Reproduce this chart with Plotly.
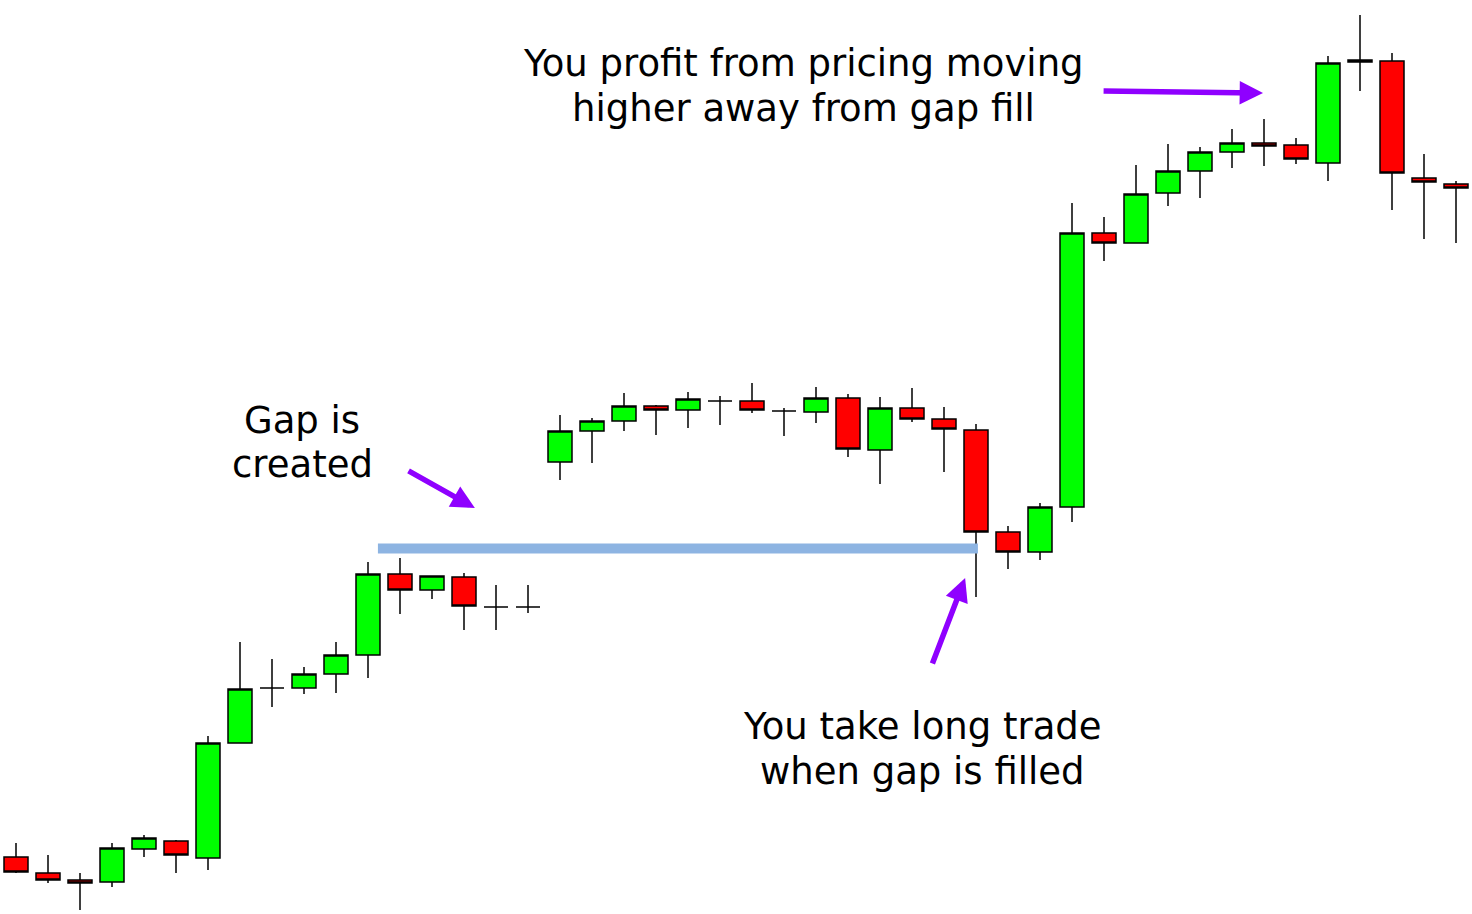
import plotly.graph_objects as go

# Candle data (price units; index = bar number)
idx = list(range(46))
opens = [57, 41, 34, 32, 65, 73, 56, 171, 226, 226, 240, 259, 340, 324, 337, 307, 307,
         452, 483, 493, 508, 504, 513, 513, 503, 502, 516, 464, 506, 495, 484, 382, 362,
         407, 681, 671, 721, 743, 762, 771, 769, 751, 852, 853, 736, 730]
highs = [71, 59, 41, 71, 79, 74, 178, 272, 255, 247, 272, 352, 356, 338, 341, 329, 329,
         499, 496, 521, 509, 522, 518, 531, 506, 527, 520, 517, 526, 507, 490, 388, 411,
         711, 697, 749, 770, 767, 785, 795, 776, 858, 899, 861, 760, 733]
lows = [41, 31, 4, 27, 57, 41, 44, 171, 207, 220, 221, 236, 300, 315, 284, 284, 301,
        434, 451, 483, 479, 486, 489, 501, 478, 491, 457, 430, 492, 442, 317, 345, 354,
        392, 653, 671, 708, 716, 746, 748, 750, 733, 823, 704, 675, 671]
closes = [42, 34, 31, 66, 76, 59, 171, 225, 226, 240, 259, 340, 324, 338, 308, 307, 307,
          483, 493, 508, 504, 515, 513, 504, 503, 516, 465, 506, 495, 485, 382, 362, 407,
          681, 671, 720, 743, 762, 771, 768, 755, 851, 854, 741, 732, 726]

gap_level = 365.5
gap_start, gap_end = 11.31, 30.06

arrows = [  # (tail_x, tail_y, tip_x, tip_y)
    (12.22, 444, 14.34, 406),
    (28.62, 249, 29.66, 336),
    (33.94, 823, 38.97, 821),
]

labels = [
    ("Gap is", 8.94, 494),
    ("created", 8.94, 450),
    ("You profit from pricing moving", 24.6, 851),
    ("higher away from gap fill", 24.6, 806),
    ("You take long trade", 28.34, 188),
    ("when gap is filled", 28.34, 143),
]

fig = go.Figure()
fig.add_trace(go.Candlestick(
    x=idx, open=opens, high=highs, low=lows, close=closes,
    increasing=dict(fillcolor="#00FF00", line=dict(color="black", width=1.5)),
    decreasing=dict(fillcolor="#FF0000", line=dict(color="black", width=1.5)),
    whiskerwidth=0, showlegend=False, hoverinfo="skip",
))

fig.add_shape(type="line", x0=gap_start, x1=gap_end, y0=gap_level, y1=gap_level,
              line=dict(color="#8DB4E2", width=10), layer="above")

for tx, ty, hx, hy in arrows:
    fig.add_annotation(x=hx, y=hy, ax=tx, ay=ty, axref="x", ayref="y", xref="x", yref="y",
                       text="", showarrow=True, arrowhead=2, arrowsize=0.85, arrowwidth=5.5,
                       arrowcolor="#8F00FF", standoff=0, startstandoff=0)

for txt, x, y in labels:
    fig.add_annotation(x=x, y=y, xref="x", yref="y", text=txt, showarrow=False,
                       font=dict(family="DejaVu Sans, Verdana, sans-serif", size=37, color="black"),
                       xanchor="center", yanchor="middle", align="center")

fig.update_layout(
    width=1472, height=914, margin=dict(l=0, r=0, t=0, b=0),
    paper_bgcolor="white", plot_bgcolor="white",
    boxgap=0.25, boxgroupgap=0,
    xaxis=dict(range=[-0.5, 45.5], visible=False, rangeslider=dict(visible=False), fixedrange=True),
    yaxis=dict(range=[0, 914], visible=False, fixedrange=True),
)

fig.write_html("out.html")
